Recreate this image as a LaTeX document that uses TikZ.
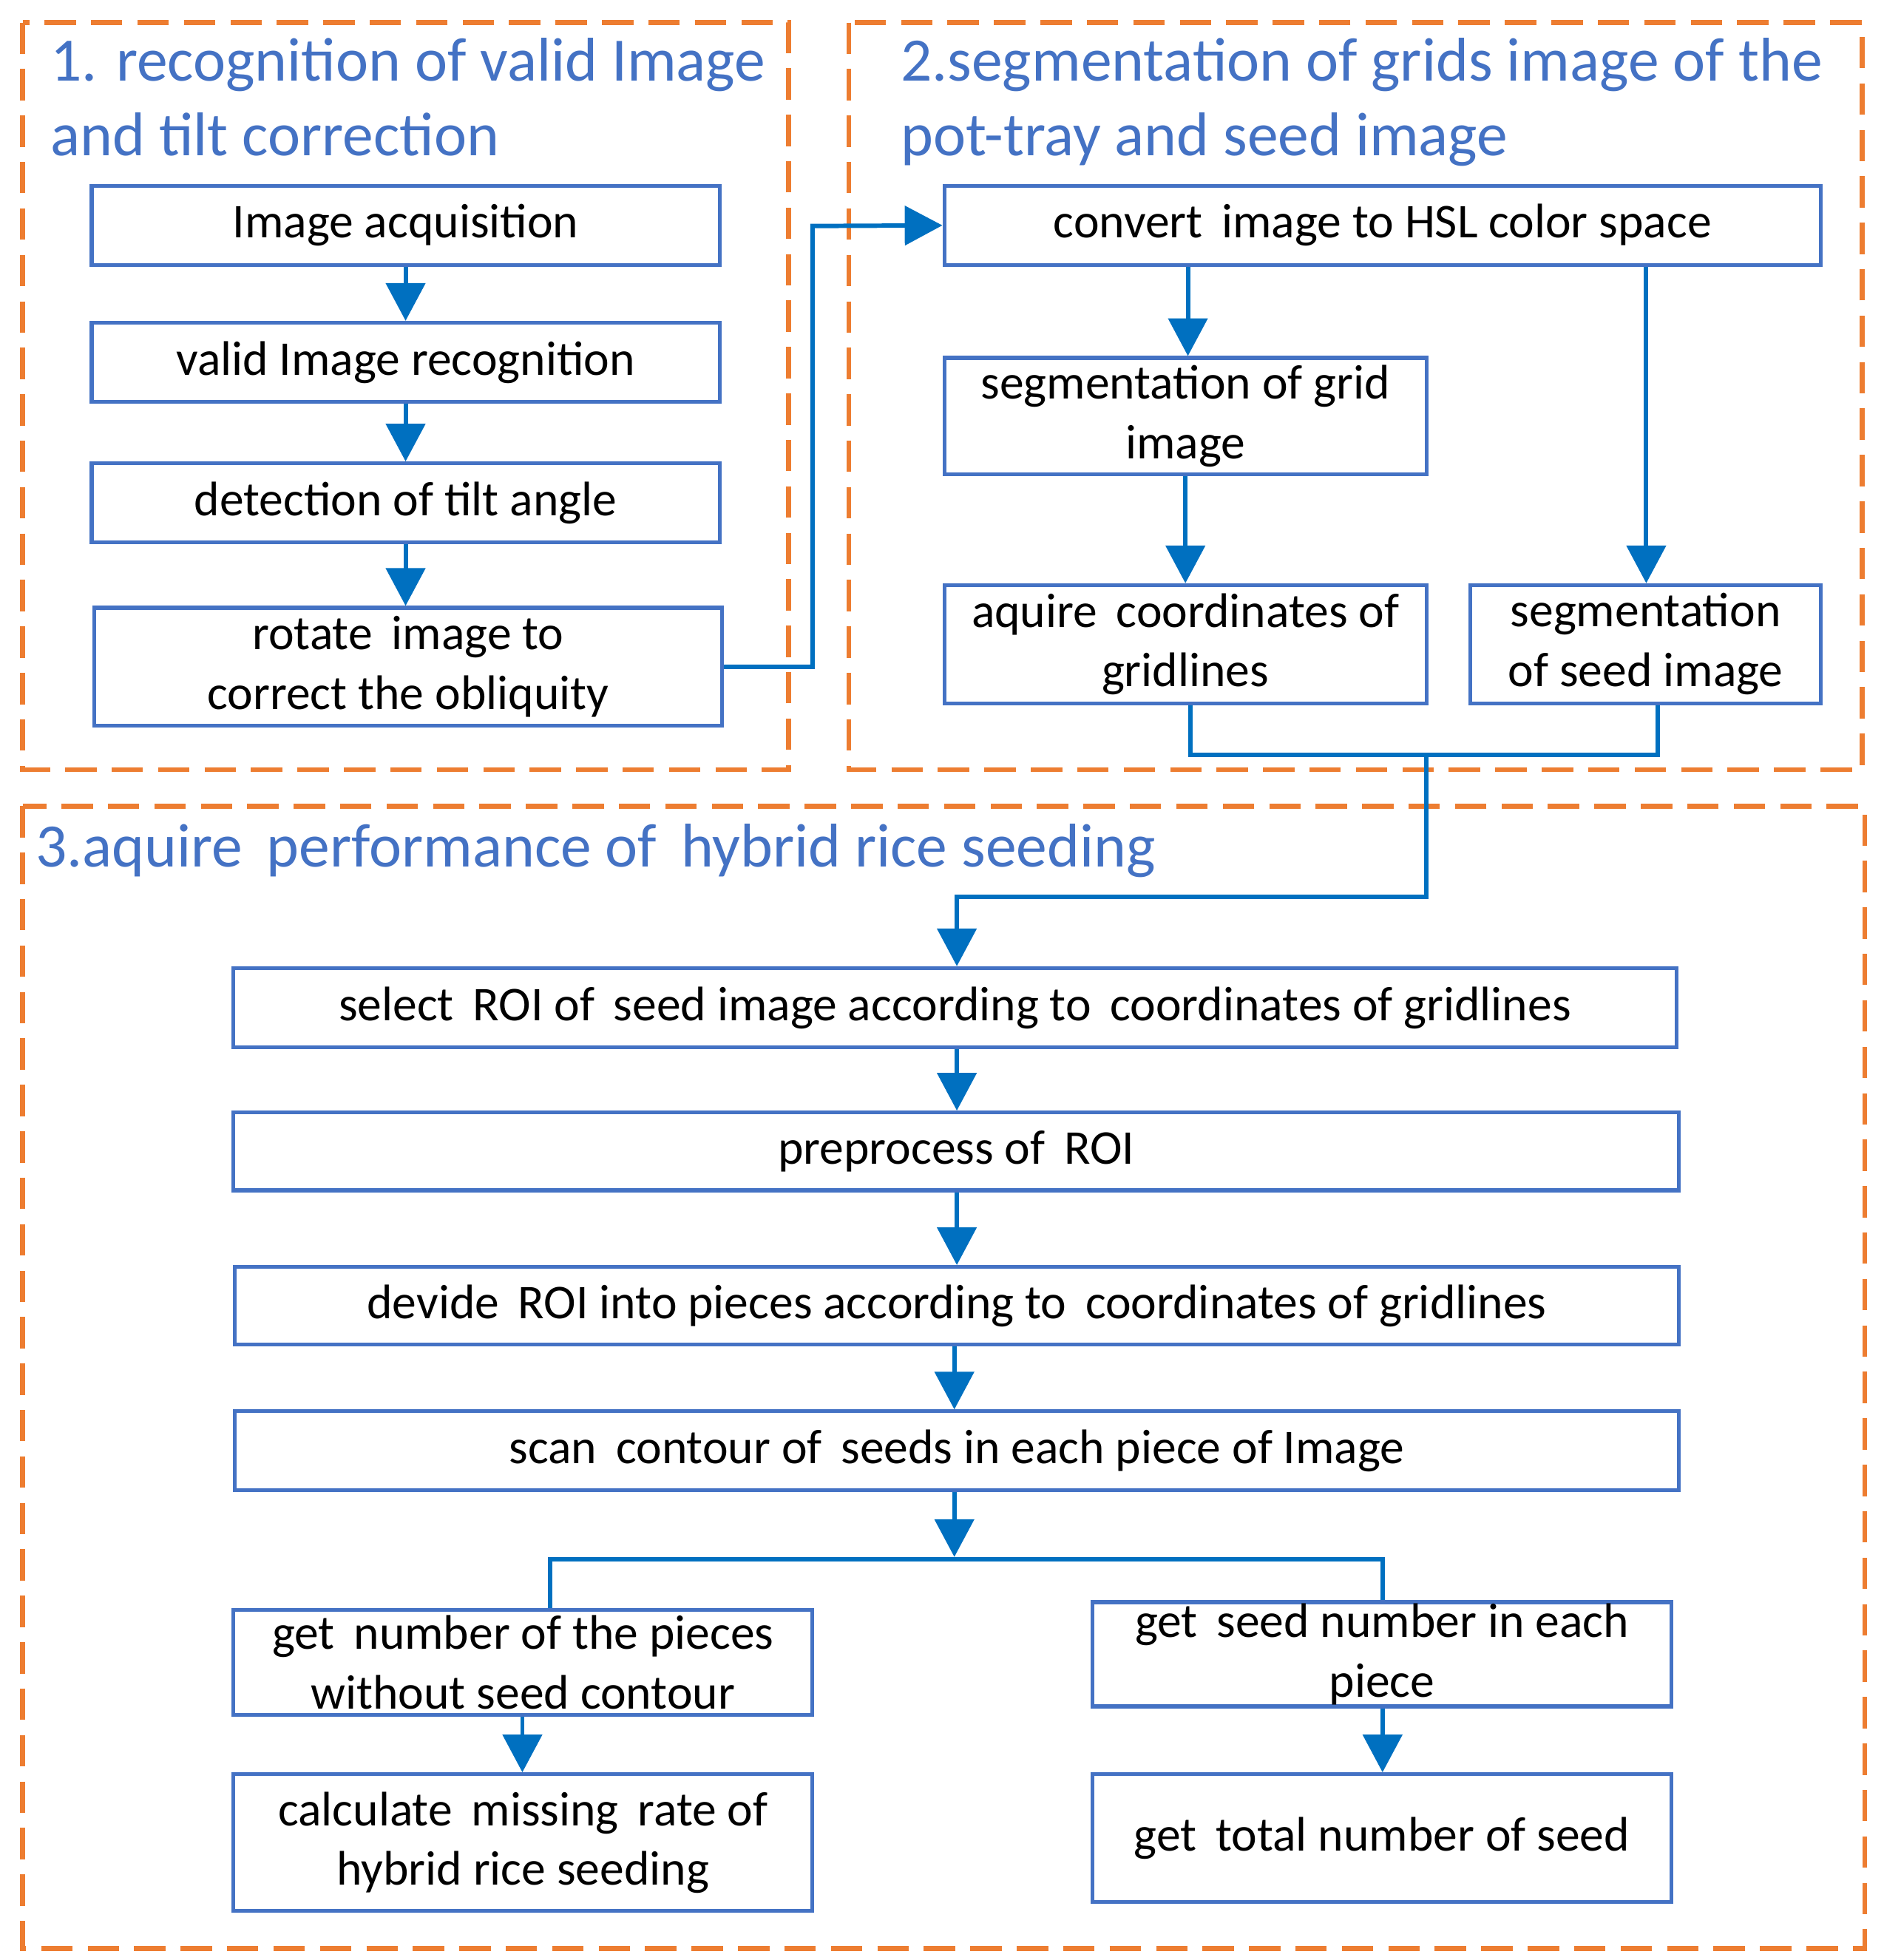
\documentclass[tikz,border=0pt]{standalone}
\usepackage{fontspec}
\setmainfont{Carlito}
\usetikzlibrary{arrows.meta}
\definecolor{ttl}{RGB}{68,114,196}
\definecolor{org}{RGB}{237,125,49}
\definecolor{arr}{RGB}{0,112,192}
\tikzset{
 box/.style={draw=ttl,line width=1.7pt,align=center,font=\fontsize{22}{27}\selectfont,inner sep=0pt},
 sec/.style={draw=org,line width=2.3pt,dash pattern=on 0.5cm off 0.24cm},
 ln/.style={draw=arr,line width=2pt},
 ar/.style={ln,-{Triangle[length=0.6cm,width=0.62cm]}},
 ttlt/.style={text=ttl,font=\fontsize{28}{34}\selectfont,align=left,anchor=north west,inner sep=0pt}
}
\newcommand{\bx}[6]{%
 \pgfmathsetmacro{\cxx}{(#2+#4)/2}\pgfmathsetmacro{\cyy}{(#3+#5)/2}%
 \pgfmathsetmacro{\www}{(#4-#2)*0.02}\pgfmathsetmacro{\hhh}{(#5-#3)*0.02}%
 \node[box,minimum width=\www cm,minimum height=\hhh cm] (#1) at (\cxx,\cyy) {#6};}
\begin{document}
\begin{tikzpicture}[x=0.02cm,y=-0.02cm]
\useasboundingbox (0,0) rectangle (1500,1561);
\draw[sec] (18,18) rectangle (628,613);
\draw[sec] (676,18) rectangle (1483,613);
\draw[sec] (18,642) rectangle (1485,1552);
\node[ttlt] (t1) at (40,30) {1. recognition of valid Image\\and tilt correction};
\node[ttlt] (t2) at (717,30) {2.segmentation of grids image of the\\pot-tray and seed image};
\node[ttlt] (t3) at (28,656) {3.aquire\, performance of\, hybrid rice seeding};
\bx{b1}{73}{148}{573}{211}{Image acquisition}
\bx{b2}{73}{257}{573}{320}{valid Image recognition}
\bx{b3}{73}{369}{573}{432}{detection of tilt angle}
\bx{b4}{75}{484}{575}{578}{rotate\, image to\\correct the obliquity}
\bx{b5}{752}{148}{1450}{211}{convert\, image to HSL color space}
\bx{b6}{752}{285}{1136}{378}{segmentation of grid\\image}
\bx{b7}{752}{466}{1136}{560}{aquire\, coordinates of\\gridlines}
\bx{b8}{1171}{466}{1450}{560}{segmentation\\of seed image}
\bx{b9}{186}{771}{1335}{834}{select\, ROI of\, seed image according to\, coordinates of gridlines}
\bx{b10}{186}{886}{1337}{948}{preprocess of\, ROI}
\bx{b11}{187}{1009}{1337}{1071}{devide\, ROI into pieces according to\, coordinates of gridlines}
\bx{b12}{187}{1124}{1337}{1187}{scan\, contour of\, seeds in each piece of Image}
\bx{b13}{186}{1282}{647}{1366}{get\, number of the pieces\\without seed contour}
\bx{b14}{870}{1276}{1331}{1359}{get\, seed number in each\\piece}
\bx{b15}{186}{1413}{647}{1522}{calculate\, missing\, rate of\\hybrid rice seeding}
\bx{b16}{870}{1413}{1331}{1515}{get\, total number of seed}
\coordinate (j1) at (948,601);
\coordinate (j2) at (1136,601);
\coordinate (j3) at (760,1242);
\draw[ar] (323,0 |- b1.south) -- (323,0 |- b2.north);
\draw[ar] (323,0 |- b2.south) -- (323,0 |- b3.north);
\draw[ar] (323,0 |- b3.south) -- (323,0 |- b4.north);
\draw[ar] (b4.east) -- (647,531) -- (647,180) -- (b5.west);
\draw[ar] (946,0 |- b5.south) -- (946,0 |- b6.north);
\draw[ar] (1311,0 |- b5.south) -- (1311,0 |- b8.north);
\draw[ar] (944,0 |- b6.south) -- (944,0 |- b7.north);
\draw[ln] (948,0 |- b7.south) -- (j1) -- (1320,601) -- (1320,0 |- b8.south);
\draw[ar] (j2) -- (1136,714) -- (762,714) -- (762,0 |- b9.north);
\draw[ar] (762,0 |- b9.south) -- (762,0 |- b10.north);
\draw[ar] (762,0 |- b10.south) -- (762,0 |- b11.north);
\draw[ar] (760,0 |- b11.south) -- (760,0 |- b12.north);
\draw[ar] (760,0 |- b12.south) -- (760,1240);
\draw[ln] (438,0 |- b13.north) -- (438,1242) -- (1101,1242) -- (1101,0 |- b14.north);
\draw[ar] (416,0 |- b13.south) -- (416,0 |- b15.north);
\draw[ar] (1101,0 |- b14.south) -- (1101,0 |- b16.north);
\end{tikzpicture}
\end{document}
